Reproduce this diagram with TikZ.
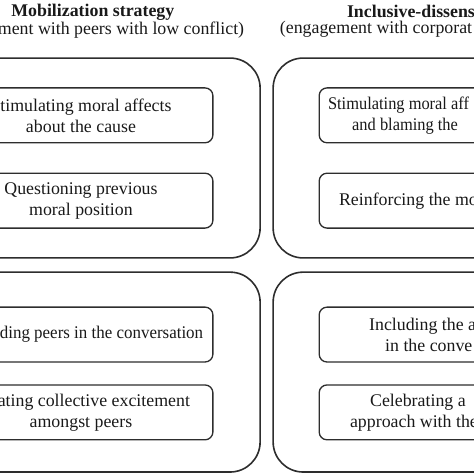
\documentclass[tikz,border=0pt]{standalone}
\usepackage{fontspec}
\setmainfont{Liberation Serif}
\newfontfamily\squeezed[FakeStretch=0.92]{Liberation Serif}
\newfontfamily\tighter[FakeStretch=0.95]{Liberation Serif}
\usetikzlibrary{positioning}
\definecolor{myline}{RGB}{45,45,45}
\definecolor{mytext}{RGB}{25,25,25}
\tikzset{
  panel/.style={rectangle, draw=myline, line width=1.15pt, rounded corners=0.76cm, minimum width=9.11cm, minimum height=5.06cm},
  card/.style={rectangle, draw=myline, line width=0.95pt, rounded corners=0.2cm, minimum width=6.68cm, minimum height=1.39cm, align=center, text=mytext, font=\fontsize{12.85}{15.1}\selectfont, inner sep=0pt},
  heading/.style={align=center, text=mytext, font=\fontsize{12.85}{11.7}\selectfont, inner sep=0pt}
}

\begin{document}
\begin{tikzpicture}
  \useasboundingbox (0,0) rectangle (12,12);
  \clip (0,0) rectangle (12,12);

  % Headings
  \node[heading] (hmob) at (2.35,11.46) {\textbf{Mobilization strategy}\\\hphantom{(engage}ment with peers with low conflict)};
  \node[heading] (hinc) at (11.19,11.46) {\textbf{Inclusive-dissens}\makebox[1.57cm]{}\\(engagement with corporat\makebox[3.34cm]{}};

  % Panels
  \node[panel] (ptl) at (2.03,8.00) {};
  \node[panel] (ptr) at (11.47,8.00) {};
  \node[panel] (pbl) at (2.03,2.58) {};
  \node[panel] (pbr) at (11.47,2.58) {};

  % Left column
  \node[card] (l1) at (2.05,9.08) {\hphantom{S}timulating moral affects\\about the cause};
  \node[card] (l2) at (2.05,6.92) {Questioning previous\\moral position};
  \node[card, font=\fontsize{12.85}{15.1}\tighter] (l3) at (2.05,3.53) {\makebox[1.04cm]{}ding peers in the conversation};
  \node[card] (l4) at (2.05,1.56) {\hphantom{Cre}ating collective excitement\\amongst peers};

  % Right column
  \node[card, font=\fontsize{12.85}{15.1}\squeezed] (r1) at (11.42,9.08) {Stimulating moral aff\makebox[2.66cm]{}\\and blaming the\makebox[2.33cm]{}};
  \node[card] (r2) at (11.42,6.92) {Reinforcing the mo\makebox[2.16cm]{}};
  \node[card] (r3) at (11.42,3.53) {Including the a\makebox[1.44cm]{}\\in the conve\makebox[1.13cm]{}};
  \node[card] (r4) at (11.42,1.56) {Celebrating a\makebox[1.68cm]{}\\approach with the\makebox[1.88cm]{}};
\end{tikzpicture}
\end{document}
